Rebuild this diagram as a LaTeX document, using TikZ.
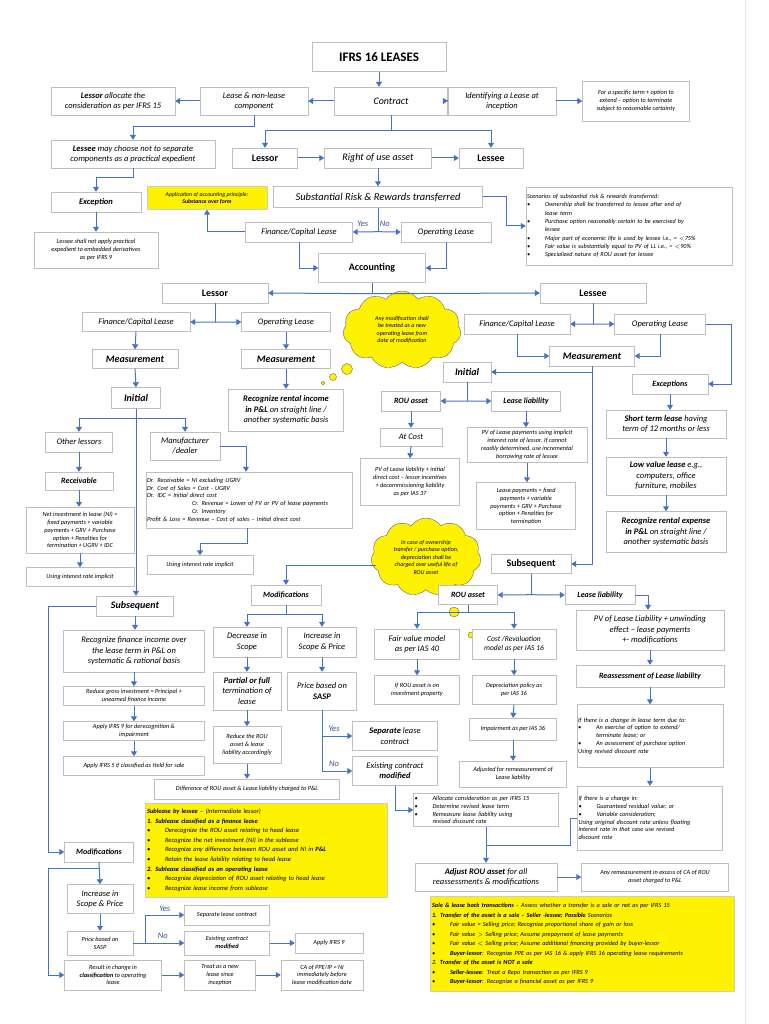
\documentclass[tikz,border=0pt]{standalone}
\usepackage{fontspec}
\setmainfont{Carlito}
\usetikzlibrary{arrows.meta,shapes.symbols}
\definecolor{arblue}{RGB}{68,114,196}
\newcommand{\fs}[2]{\fontsize{#1}{#2}\selectfont}
\newcommand{\bl}{\makebox[18pt][l]{\textbullet}}
\tikzset{
 bx/.style={draw=black!25,fill=white,align=center,inner sep=1pt,font=\itshape\fs{8.5}{10.5}},
 sm/.style={bx,font=\itshape\fs{6.3}{7.8}},
 hb/.style={bx,font=\bfseries\fs{10}{12}},
 hbi/.style={bx,font=\bfseries\itshape\fs{10}{12}},
 yl/.style={fill=yellow,draw=black!20,inner sep=2pt},
 cl/.style={cloud,cloud puffs=11,cloud puff arc=110,aspect=1.4,fill=yellow,draw=black!60,align=center,font=\itshape\fs{6}{7.5},inner sep=0pt},
 ar/.style={draw=arblue,line width=1pt,-{Triangle[length=5pt,width=6pt]}},
 ln/.style={draw=arblue,line width=1pt},
 lb/.style={font=\itshape\fs{8.5}{10},text=arblue!70!black},
}
\begin{document}
\begin{tikzpicture}[x=1pt,y=-1pt]
\useasboundingbox[fill=white] (0,0) rectangle (768,1024);
\draw[black!10] (745,0) -- (745,1024);
% ---- nodes
\node[bx,font=\bfseries\fs{13}{15},minimum width=134,minimum height=29] (title) at (379,57) {IFRS 16 LEASES};
\node[bx,font=\fs{10}{12}\itshape,minimum width=113,minimum height=28] (contract) at (391,101) {Contract};
\node[bx,minimum width=108,minimum height=28] (lnl) at (254,101) {Lease \& non-lease\\component};
\node[bx,minimum width=124,minimum height=28] (alloc) at (113,101) {\textbf{Lessor} allocate the\\consideration as per IFRS 15};
\node[bx,minimum width=108,minimum height=28] (ident) at (502,101) {Identifying a Lease at\\inception};
\node[sm,minimum width=107,minimum height=40] (spec) at (636,101) {For a specific term + option to\\extend -- option to terminate\\subject to reasonable certainty};
\node[bx,minimum width=164,minimum height=28] (choose) at (133,154) {\textbf{Lessee} may choose not to separate\\components as a practical expedient};
\node[hb,minimum width=65,minimum height=20] (lessor2) at (265,158) {Lessor};
\node[bx,font=\itshape\fs{10}{12},minimum width=107,minimum height=20] (rou) at (378,158) {Right of use asset};
\node[hb,minimum width=64,minimum height=20] (lessee2) at (491,158) {Lessee};
\node[bx,font=\bfseries\itshape\fs{8.5}{10},minimum width=90,minimum height=20] (exception) at (96,202) {Exception};
\node[yl,align=center,font=\itshape\fs{5.8}{7.2},minimum width=120,minimum height=23] (appl) at (207,198) {Application of accounting principle:\\\textbf{Substance over form}};
\node[bx,font=\itshape\fs{10.5}{12},minimum width=209,minimum height=21] (subst) at (378,197) {Substantial Risk \& Rewards transferred};
\node[sm,align=left,text width=204,minimum height=78,font=\itshape\fs{6.2}{8.3}] (scen) at (629,226) {Scenarios of substantial risk \& rewards transferred:\\
\bl Ownership shall be transferred to lessee after end of\\\hspace*{18pt}lease term\\
\bl Purchase option reasonably certain to be exercised by\\\hspace*{18pt}lessee\\
\bl Major part of economic life is used by lessee i.e., = $<$75\%\\
\bl Fair value is substantially equal to PV of LL i.e., = $<$90\%\\
\bl Specialized nature of ROU asset for lessee};
\node[bx,minimum width=107,minimum height=20] (fin1) at (299,232) {Finance/Capital Lease};
\node[bx,minimum width=90,minimum height=20] (op1) at (446,232) {Operating Lease};
\node[sm,minimum width=124,minimum height=36] (shallnot) at (96,250) {Lessee shall not apply practical\\expedient to embedded derivatives\\as per IFRS 9};
\node[hb,minimum width=107,minimum height=29] (acct) at (372,268) {Accounting};
\node[hb,minimum width=106,minimum height=20] (lessor3) at (215,293) {Lessor};
\node[hb,minimum width=106,minimum height=20] (lessee3) at (593,293) {Lessee};
\node[bx,minimum width=108,minimum height=19] (lfin) at (136,322) {Finance/Capital Lease};
\node[bx,minimum width=89,minimum height=19] (lop) at (286,322) {Operating Lease};
\node[cl,minimum width=118,minimum height=78] (cloud1) at (402,330) {Any modification shall\\be treated as a new\\operating lease from\\date of modification};
\fill[yellow,draw=black!60] (347,369) circle (5.5) (333,377) circle (3.5) (323,383) circle (1.8);
\node[bx,minimum width=106,minimum height=20] (efin) at (517,324) {Finance/Capital Lease};
\node[bx,minimum width=91,minimum height=20] (eop) at (660,324) {Operating Lease};
\node[hbi,minimum width=86,minimum height=19] (measL) at (135,359) {Measurement};
\node[hbi,minimum width=89,minimum height=19] (measM) at (286,359) {Measurement};
\node[hbi,minimum width=85,minimum height=20] (measE) at (592,356) {Measurement};
\node[hbi,minimum width=49,minimum height=21] (initL) at (136,398) {Initial};
\node[bx,minimum width=115,minimum height=42] (recinc) at (286,410) {\textbf{Recognize rental income}\\\textbf{in P\&L} on straight line /\\another systematic basis};
\node[hbi,minimum width=48,minimum height=20] (initE) at (467,372) {Initial};
\node[bx,font=\bfseries\itshape\fs{8}{10},minimum width=76,minimum height=20] (exc) at (670,384) {Exceptions};
\node[bx,font=\bfseries\itshape\fs{8}{10},minimum width=59,minimum height=20] (rou1) at (411,401) {ROU asset};
\node[bx,font=\bfseries\itshape\fs{8}{10},minimum width=69,minimum height=20] (ll1) at (526,401) {Lease liability};
\node[bx,minimum width=67,minimum height=20] (other) at (79,442) {Other lessors};
\node[bx,minimum width=70,minimum height=28] (manu) at (185,446) {Manufacturer\\/dealer};
\node[bx,minimum width=62,minimum height=18] (atcost) at (411,437) {At Cost};
\node[sm,minimum width=120,minimum height=35] (pvimp) at (527,445) {PV of Lease payments using implicit\\interest rate of lessor. If cannot\\readily determined, use incremental\\borrowing rate of lessee};
\node[bx,minimum width=120,minimum height=28] (short) at (666,424) {\textbf{Short term lease} having\\term of 12 months or less};
\node[bx,font=\bfseries\itshape\fs{8}{10},minimum width=68,minimum height=18] (recv) at (79,481) {Receivable};
\node[sm,align=left,text width=204,minimum height=56] (dr) at (249,500) {Dr. Receivable = NI excluding UGRV\\Dr. Cost of Sales = Cost - UGRV\\Dr. IDC = Initial direct cost\\\hspace*{45pt}Cr. Revenue = Lower of FV or PV of lease payments\\\hspace*{45pt}Cr. Inventory\\Profit \& Loss = Revenue -- Cost of sales -- Initial direct cost};
\node[sm,minimum width=99,minimum height=47] (pvll) at (410,482) {PV of Lease liability + initial\\direct cost -- lessor incentives\\+ decommissioning liability\\as per IAS 37};
\node[sm,minimum width=99,minimum height=47] (lpay) at (526,506) {Lease payments = fixed\\payments + variable\\payments + GRV + Purchase\\option + Penalties for\\termination};
\node[bx,minimum width=120,minimum height=38] (low) at (666,476) {\textbf{Low value lease} e.g.,\\computers, office\\furniture, mobiles};
\node[sm,minimum width=108,minimum height=46] (netinv) at (80,530) {Net investment in lease (NI) =\\fixed payments + variable\\payments + GRV + Purchase\\option + Penalties for\\termination + UGRV + IDC};
\node[bx,minimum width=120,minimum height=41] (recexp) at (666,532) {\textbf{Recognize rental expense}\\\textbf{in P\&L} on straight line /\\another systematic basis};
\node[cl,minimum width=110,minimum height=78] (cloud2) at (426,557) {In case of ownership\\transfer / purchase option,\\depreciation shall be\\charged over useful life of\\ROU asset};
\fill[yellow,draw=black!60] (454,612) circle (5) (471,635) circle (3) (486,653) circle (1.5);
\node[sm,minimum width=108,minimum height=19] (usingL) at (80,577) {Using interest rate implicit};
\node[sm,minimum width=106,minimum height=19] (usingM) at (200,565) {Using interest rate implicit};
\node[hb,minimum width=80,minimum height=19] (subE) at (531,564) {Subsequent};
\node[bx,font=\bfseries\itshape\fs{8}{10},minimum width=70,minimum height=20] (modL) at (286,595) {Modifications};
\node[bx,font=\bfseries\itshape\fs{8}{10},minimum width=59,minimum height=19] (rou2) at (468,595) {ROU asset};
\node[bx,font=\bfseries\itshape\fs{8}{10},minimum width=70,minimum height=19] (ll2) at (600,595) {Lease liability};
\node[hbi,minimum width=77,minimum height=20] (subL) at (135,606) {Subsequent};
\node[bx,minimum width=68,minimum height=30] (dec) at (247,642) {Decrease in\\Scope};
\node[bx,minimum width=69,minimum height=30] (inc) at (322,642) {Increase in\\Scope \& Price};
\node[bx,minimum width=85,minimum height=30] (fv) at (417,644) {Fair value model\\as per IAS 40};
\node[bx,font=\itshape\fs{7.5}{9.5},minimum width=84,minimum height=30] (cost) at (514,644) {Cost /Revaluation\\model as per IAS 16};
\node[bx,minimum width=148,minimum height=40] (pvu) at (650,630) {PV of Lease Liability + unwinding\\effect -- lease payments\\+- modifications};
\node[bx,minimum width=141,minimum height=42] (recfin) at (134,651) {Recognize finance income over\\the lease term in P\&L on\\systematic \& rational basis};
\node[bx,minimum width=68,minimum height=38] (partial) at (247,691) {\textbf{Partial or full}\\termination of\\lease};
\node[bx,minimum width=69,minimum height=38] (sasp) at (322,691) {Price based on\\\textbf{SASP}};
\node[bx,font=\bfseries\itshape\fs{8}{10},minimum width=148,minimum height=22] (reass) at (650,676) {Reassessment of Lease liability};
\node[sm,minimum width=85,minimum height=29] (ifrou) at (417,690) {If ROU asset is on\\investment property};
\node[sm,minimum width=84,minimum height=29] (dep) at (514,690) {Depreciation policy as\\per IAS 16};
\node[sm,minimum width=141,minimum height=19] (redg) at (134,696) {Reduce gross investment = Principal +\\unearned finance income};
\node[sm,minimum width=141,minimum height=19] (app9) at (134,731) {Apply IFRS 9 for derecognition \&\\impairment};
\node[sm,minimum width=68,minimum height=37] (reduce) at (247,745) {Reduce the ROU\\asset \& lease\\liability accordingly};
\node[bx,minimum width=85,minimum height=29] (sep) at (395,736) {\textbf{Separate} lease\\contract};
\node[sm,minimum width=87,minimum height=22] (imp) at (513,729) {Impairment as per IAS 36};
\node[sm,align=left,text width=144,minimum height=63] (chg1) at (650,736) {If there is a change in lease term due to:\\\bl An exercise of option to extend/\\\hspace*{18pt}terminate lease; or\\\bl An assessment of purchase option\\Using revised discount rate};
\node[bx,minimum width=85,minimum height=29] (exist) at (395,771) {Existing contract\\\textbf{modified}};
\node[sm,minimum width=141,minimum height=19] (app5) at (134,766) {Apply IFRS 5 if classified as Held for sale};
\node[sm,minimum width=107,minimum height=26] (adj) at (513,774) {Adjusted for remeasurement of\\Lease liability};
\node[sm,minimum width=185,minimum height=20] (diff) at (247,789) {Difference of ROU asset \& Lease liability charged to P\&L};
\node[sm,align=left,text width=143,minimum height=33] (alloc2) at (486,810) {\bl Allocate consideration as per IFRS 15\\\bl Determine revised lease term\\\bl Remeasure lease liability using\\\hspace*{18pt}revised discount rate};
\node[sm,align=left,text width=143,minimum height=64] (chg2) at (650,818) {If there is a change in:\\\bl Guaranteed residual value; or\\\bl Variable consideration;\\Using original discount rate unless floating\\interest rate in that case use revised\\discount rate};
\node[yl,align=left,text width=238,minimum height=94,font=\itshape\fs{6.5}{9.6}] (sub) at (266,850) {\textbf{Sublease by lessee} -- (Intermediate lessor)\\\textbf{1. Sublease classified as a finance lease}\\
\bl Derecognize the ROU asset relating to head lease\\
\bl Recognize the net investment (NI) in the sublease\\
\bl Recognize any difference between ROU asset and NI in \textbf{P\&L}\\
\bl Retain the lease liability relating to head lease\\
\textbf{2. Sublease classified as an operating lease}\\
\bl Recognize depreciation of ROU asset relating to head lease\\
\bl Recognize lease income from sublease};
\node[bx,font=\bfseries\itshape\fs{8}{10},minimum width=69,minimum height=20] (modL2) at (99,852) {Modifications};
\node[bx,minimum width=142,minimum height=28] (adjust) at (486,877) {\textbf{Adjust ROU asset} for all\\reassessments \& modifications};
\node[sm,minimum width=147,minimum height=28] (anyrem) at (655,877) {Any remeasurement in excess of CA of ROU\\asset charged to P\&L};
\node[bx,minimum width=66,minimum height=29] (inc2) at (100,899) {Increase in\\Scope \& Price};
\node[sm,minimum width=85,minimum height=20] (sep2) at (227,915) {Separate lease contract};
\node[yl,align=left,text width=300,minimum height=95,font=\itshape\fs{6.3}{9.5}] (sale) at (582,944) {\textbf{Sale \& lease back transactions} -- Assess whether a transfer is a sale or not as per IFRS 15\\\textbf{1. Transfer of the asset is a sale -- Seller -lessee; Possible} Scenarios\\
\bl Fair value = Selling price; Recognize proportional share of gain or loss\\
\bl Fair value $>$ Selling price; Assume prepayment of lease payments\\
\bl Fair value $<$ Selling price; Assume additional financing provided by buyer-lessor\\
\bl \textbf{Buyer-lessor}: Recognize PPE as per IAS 16 \& apply IFRS 16 operating lease requirements\\
2. \textbf{Transfer of the asset is NOT a sale}\\
\bl \textbf{Seller-lessee}: Treat a Repo transaction as per IFRS 9\\
\bl \textbf{Buyer-lessor}: Recognize a financial asset as per IFRS 9};
\node[sm,minimum width=66,minimum height=24] (sasp2) at (100,943) {Price based on\\SASP};
\node[sm,minimum width=85,minimum height=24] (exist2) at (227,943) {Existing contract\\\textbf{modified}};
\node[sm,minimum width=68,minimum height=20] (app9s) at (329,943) {Apply IFRS 9};
\node[sm,minimum width=97,minimum height=30] (result) at (113,975) {Result in change in\\\textbf{classification} to operating\\lease};
\node[sm,minimum width=71,minimum height=30] (treat) at (220,975) {Treat as a new\\lease since\\inception};
\node[sm,minimum width=82,minimum height=30] (ca) at (322,975) {CA of PPE/IP = NI\\immediately before\\lease modification date};
% ---- connectors
\draw[ar] (title.south) -- (title.south|-contract.north);
\draw[ar] (contract.west) -- (lnl.east);
\draw[ar] (lnl.west) -- (alloc.east);
\draw[ar] (contract.east) -- (ident.west);
\draw[ar] (ident.east) -- (spec.west);
\draw[ar] (lnl.south) -- ++(0,11) -| (choose.north);
\draw[ln] (contract.south) -- ++(0,15) coordinate (c1);
\draw[ar] (c1) -| (lessor2.north);
\draw[ar] (c1) -| (lessee2.north);
\draw[ar] (lessor2.east) -- (rou.west);
\draw[ar] (rou.east) -- (lessee2.west);
\draw[ar] (rou.south) -- (subst.north);
\draw[ar] (choose.south) -- ++(0,9) -| (exception.north);
\draw[ar] (exception.south) -- (shallnot.north);
\draw[ln] (subst.south) -- ++(0,24) coordinate (c2);
\draw[ar] (c2) -- (fin1.east) node[lb,pos=0.6,above=1pt] {Yes};
\draw[ar] (c2) -- (op1.west) node[lb,pos=0.3,above=1pt] {No};
\draw[ar] (fin1.west) -| (appl.south);
\draw[ar] (subst.east) -- ++(24,0) |- (scen.west);
\draw[ar] (fin1.south) |- (acct.west);
\draw[ar] (op1.south) |- (acct.east);
\draw[ln] (acct.south) -- ++(0,11) coordinate (c3);
\draw[ar] (c3) -- (lessor3.east);
\draw[ar] (c3) -- (lessee3.west);
\draw[ln] (lessor3.south) -- ++(0,19) coordinate (c4);
\draw[ar] (c4) -- (lfin.east);
\draw[ar] (c4) -- (lop.west);
\draw[ar] (lfin.south) -- (measL.north);
\draw[ar] (lop.south) -- (measM.north);
\draw[ar] (measL.south) -- (initL.north);
\draw[ar] (measM.south) -- (recinc.north);
\draw[ln] (lessee3.south) -- ++(0,21) coordinate (c5);
\draw[ar] (c5) -- (efin.east);
\draw[ar] (c5) -- (eop.west);
\draw[ar] (efin.south) |- (measE.west);
\draw[ar] (eop.south) |- (measE.east);
\draw[ar] (eop.east) -- ++(26,0) |- (exc.east);
\draw[ar] (measE.south) |- (initE.east);
\draw[ar] (measE.south) |- (subE.east);
\draw[ln] (initE.south) -- ++(0,19) coordinate (c6);
\draw[ar] (c6) -- (rou1.east);
\draw[ar] (c6) -- (ll1.west);
\draw[ar] (rou1.south) -- (atcost.north);
\draw[ar] (atcost.south) -- (pvll.north);
\draw[ar] (ll1.south) -- (ll1.south|-pvimp.north);
\draw[ar] (pvimp.south) -- (pvimp.south|-lpay.north);
\draw[ar] (exc.south) -- (exc.south|-short.north);
\draw[ar] (short.south) -- (low.north);
\draw[ar] (low.south) -- (recexp.north);
\draw[ln] (initL.south) -- ++(0,10) coordinate (c7);
\draw[ar] (c7) -| (other.north);
\draw[ar] (c7) -| (manu.north);
\draw[ar] (initL.south) -- (initL.south|-subL.north);
\draw[ar] (other.south) -- (recv.north);
\draw[ar] (recv.south) -- (recv.south|-netinv.north);
\draw[ar] (netinv.south) -- (netinv.south|-usingL.north);
\draw[ar] (manu.east) -| ([xshift=-3pt]dr.north);
\draw[ar] ([xshift=-2pt]dr.south) -- ++(0,15) -| (usingM.north);
\coordinate (cl2w) at (376,565);
\draw[ar] (cl2w) -| (modL.north);
\draw[ln] (subE.south) -- ++(0,21) coordinate (c8);
\draw[ar] (c8) -- (rou2.east);
\draw[ar] (c8) -- (ll2.west);
\draw[ln] (rou2.south) -- ++(0,8) coordinate (c9);
\draw[ar] (c9) -| (fv.north);
\draw[ar] (c9) -| (cost.north);
\draw[ar] (ll2.east) -| ([xshift=-2pt]pvu.north);
\draw[ar] (pvu.south) -- (reass.north);
\draw[ar] (reass.south) -- (chg1.north);
\draw[ar] (chg1.south) -- (chg2.north);
\draw[ar] (subL.south) -- (subL.south|-recfin.north);
\draw[ar] (recfin.south) -- (redg.north);
\draw[ar] (redg.south) -- (app9.north);
\draw[ar] (app9.south) -- (app5.north);
\draw[ln] (modL.south) -- ++(0,9) coordinate (c10);
\draw[ar] (c10) -| (dec.north);
\draw[ar] (c10) -| (inc.north);
\draw[ar] (dec.south) -- (partial.north);
\draw[ar] (partial.south) -- (reduce.north);
\draw[ar] (reduce.south) -- (diff.north);
\draw[ar] (inc.south) -- (sasp.north);
\draw[ln] (sasp.south) -- (sasp.south|-exist.west);
\draw[ar] (sasp.south|-sep.west) -- (sep.west) node[lb,pos=0.4,above=1pt] {Yes};
\draw[ar] (sasp.south|-exist.west) -- (exist.west) node[lb,pos=0.4,above=1pt] {No};
\draw[ar] (fv.south) -- (ifrou.north);
\draw[ar] (cost.south) -- (dep.north);
\draw[ar] (dep.south) -- (imp.north);
\draw[ar] (imp.south) -- (adj.north);
\draw[ar] (exist.south) |- (alloc2.west);
\draw[ar] (alloc2.south) -- (adjust.north);
\coordinate (j1) at (486,845);
\draw[ln] (chg2.west) -- ++(-7,0) |- (j1);
\draw[ar] (adjust.east) -- (anyrem.west);
\draw[ar] (subL.west) -- ++(-48,0) |- (modL2.west);
\coordinate (k1) at (48,868);
\draw[ar] (modL2.south) -- (inc2.north);
\draw[ar] (modL2.south|-k1) -- (k1) |- (result.west);
\draw[ar] (inc2.south) -- (sasp2.north);
\draw[ln] (sasp2.east) -- ++(12,0) coordinate (c11);
\draw[ar] (c11) |- (sep2.west) node[lb,pos=0.75,above=0pt] {Yes};
\draw[ar] (c11) -- (exist2.west) node[lb,pos=0.45,above=1pt] {No};
\draw[ar] (exist2.east) -- (app9s.west);
\draw[ar] (result.east) -- (treat.west);
\draw[ar] (treat.east) -- (ca.west);
\end{tikzpicture}
\end{document}
